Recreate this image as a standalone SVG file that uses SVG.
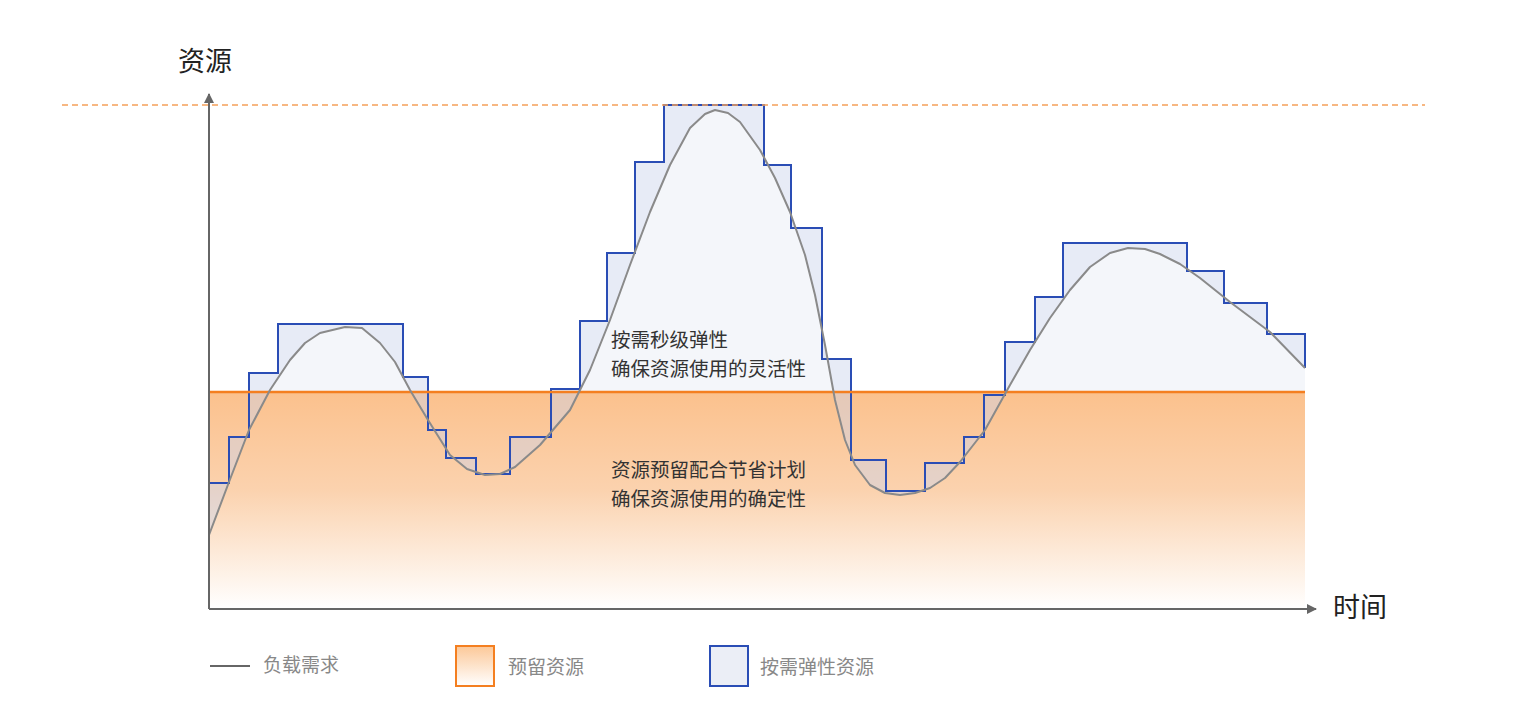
<svg xmlns="http://www.w3.org/2000/svg" width="1520" height="726" viewBox="0 0 1520 726">
<defs>
<linearGradient id="og" x1="0" y1="0" x2="0" y2="1"><stop offset="0" stop-color="#fbc18d"/><stop offset="0.45" stop-color="#fbd2ae"/><stop offset="1" stop-color="#ffffff"/></linearGradient>
<linearGradient id="lg" x1="0" y1="0" x2="0" y2="1"><stop offset="0" stop-color="#fcc898"/><stop offset="1" stop-color="#ffffff"/></linearGradient>
<clipPath id="above"><rect x="0" y="0" width="1520" height="392"/></clipPath>
<marker id="ar" markerWidth="10" markerHeight="10" refX="9" refY="5" orient="auto" markerUnits="userSpaceOnUse"><path d="M0,0 L10,5 L0,10 Z" fill="#666"/></marker>
</defs>
<style>
.t{font-family:"Noto Sans CJK SC","Noto Sans",sans-serif;fill:#333;font-size:19.5px}
.l{font-family:"Noto Sans CJK SC","Noto Sans",sans-serif;fill:#888;font-size:19px}
.h{font-family:"Noto Sans CJK SC","Noto Sans",sans-serif;fill:#222;font-size:27px}
</style>
<g id="reserved">
<rect x="209" y="392" width="1096" height="217" fill="url(#og)"/>
</g>
<g id="elastic">
<path clip-path="url(#above)" d="M209,535 L229,482 249,430 270,390 290,360 305,343 320,333 345,327 362,328 380,343 395,362 410,390 428,420 450,455 467,469 485,475 500,474 515,467 540,445 570,410 590,370 610,320 630,265 650,212 670,165 690,128 705,114 715,110 728,113 740,122 760,150 775,178 790,212 805,255 815,295 825,345 835,400 845,440 855,465 870,485 885,493 900,495 915,493 930,488 945,478 960,462 985,430 1010,385 1030,350 1050,318 1070,290 1090,267 1110,253 1128,248 1145,249 1160,254 1180,264 1200,278 1230,302 1270,332 1305,368 L1305,392 L209,392 Z" fill="#f4f6fa"/>
<path d="M209,483 H229 V437 H249 V373 H278 V324 H403 V377 H428 V430 H446 V458 H476 V474 H510 V437 H551 V389 H580 V321 H607 V253 H635 V162 H664 V105 H764 V165 H791 V228 H822 V359 H851 V460 H886 V491 H925 V463 H964 V437 H984 V395 H1005 V342 H1035 V297 H1063 V243 H1187 V271 H1224 V303 H1267 V334 H1305 V368 L1270,332 1230,302 1200,278 1180,264 1160,254 1145,249 1128,248 1110,253 1090,267 1070,290 1050,318 1030,350 1010,385 985,430 960,462 945,478 930,488 915,493 900,495 885,493 870,485 855,465 845,440 835,400 825,345 815,295 805,255 790,212 775,178 760,150 740,122 728,113 715,110 705,114 690,128 670,165 650,212 630,265 610,320 590,370 570,410 540,445 515,467 500,474 485,475 467,469 450,455 428,420 410,390 395,362 380,343 362,328 345,327 320,333 305,343 290,360 270,390 249,430 229,482 209,535 Z" fill="#c9d3ea" fill-opacity="0.45" stroke="none"/>
<path d="M209,483 H229 V437 H249 V373 H278 V324 H403 V377 H428 V430 H446 V458 H476 V474 H510 V437 H551 V389 H580 V321 H607 V253 H635 V162 H664 V105 H764 V165 H791 V228 H822 V359 H851 V460 H886 V491 H925 V463 H964 V437 H984 V395 H1005 V342 H1035 V297 H1063 V243 H1187 V271 H1224 V303 H1267 V334 H1305 V368" fill="none" stroke="#2a4db5" stroke-width="2"/>
</g>
<g id="connectors">
<line x1="62" y1="105" x2="1425" y2="105" stroke="#f5a05a" stroke-width="1.5" stroke-dasharray="6,4"/>
<line x1="209" y1="392" x2="1305" y2="392" stroke="#f47f20" stroke-width="2.5"/>
<polyline fill="none" stroke="#8a8a8a" stroke-width="2" stroke-linejoin="round" points="209,535 229,482 249,430 270,390 290,360 305,343 320,333 345,327 362,328 380,343 395,362 410,390 428,420 450,455 467,469 485,475 500,474 515,467 540,445 570,410 590,370 610,320 630,265 650,212 670,165 690,128 705,114 715,110 728,113 740,122 760,150 775,178 790,212 805,255 815,295 825,345 835,400 845,440 855,465 870,485 885,493 900,495 915,493 930,488 945,478 960,462 985,430 1010,385 1030,350 1050,318 1070,290 1090,267 1110,253 1128,248 1145,249 1160,254 1180,264 1200,278 1230,302 1270,332 1305,368"/>
<line x1="209" y1="609" x2="209" y2="94" stroke="#666" stroke-width="2" marker-end="url(#ar)"/>
<line x1="209" y1="609" x2="1316" y2="609" stroke="#666" stroke-width="2" marker-end="url(#ar)"/>
</g>
<g id="labels">
<text class="h" x="178" y="71">资源</text>
<text class="h" x="1333" y="617">时间</text>
<text class="t" x="611" y="347">按需秒级弹性</text>
<text class="t" x="611" y="376">确保资源使用的灵活性</text>
<text class="t" x="611" y="477">资源预留配合节省计划</text>
<text class="t" x="611" y="506">确保资源使用的确定性</text>
</g>
<g id="legend">
<line x1="210" y1="666" x2="250" y2="666" stroke="#666" stroke-width="2"/>
<text class="l" x="263" y="672">负载需求</text>
<rect x="456" y="646" width="38" height="40" fill="url(#lg)" stroke="#f47f20" stroke-width="2"/>
<text class="l" x="508" y="674">预留资源</text>
<rect x="710" y="646" width="38" height="40" fill="#ebeef6" stroke="#2a4db5" stroke-width="2"/>
<text class="l" x="760" y="674">按需弹性资源</text>
</g>
</svg>
